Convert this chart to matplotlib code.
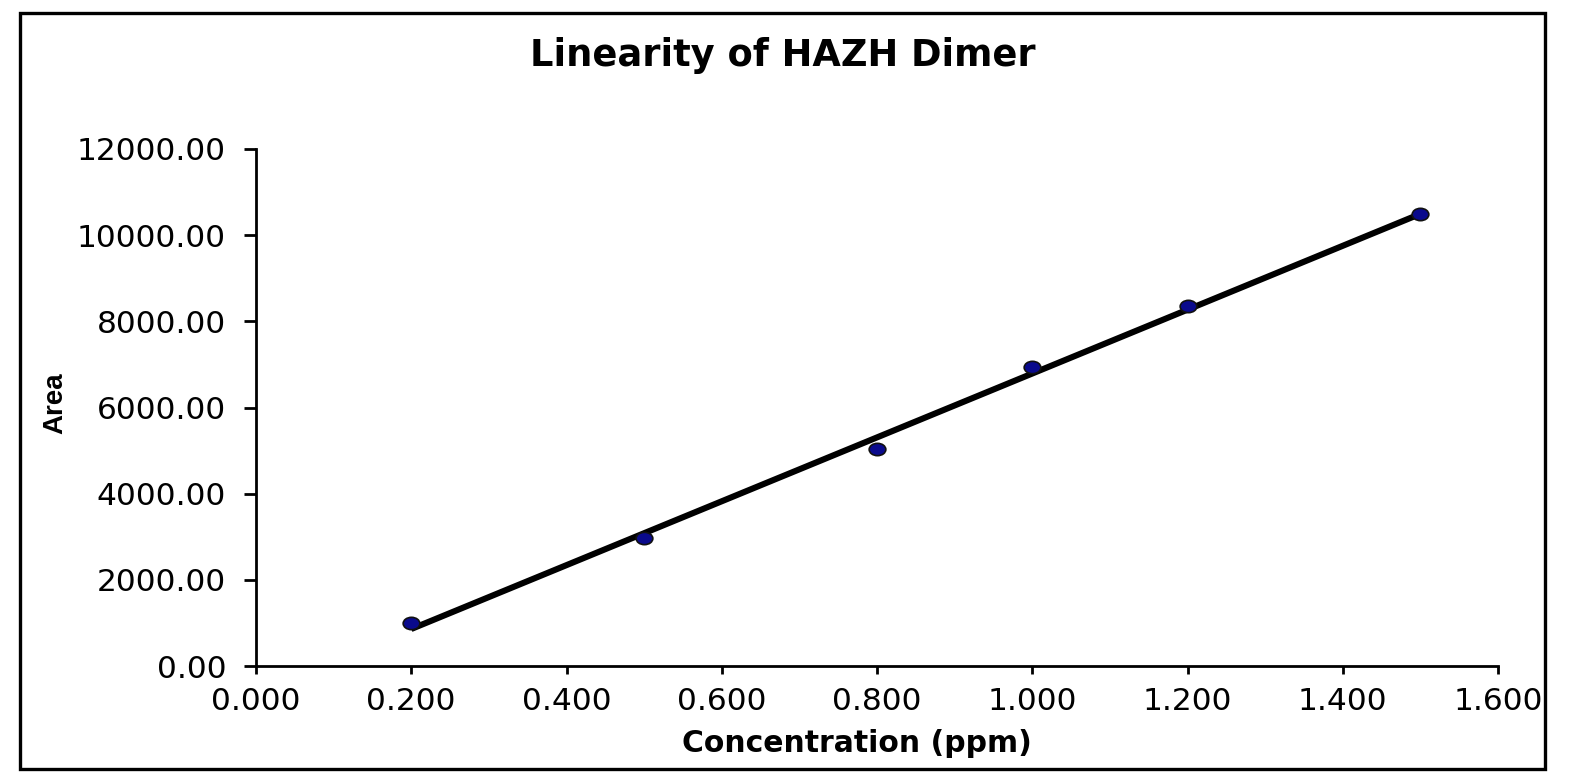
"""Linearity plot of HAZH dimer peak area against concentration."""

from __future__ import annotations

import matplotlib

matplotlib.use("Agg")

import matplotlib.pyplot as plt
import numpy as np
from matplotlib.patches import Rectangle
from matplotlib.path import Path
from matplotlib.transforms import Affine2D

CONCENTRATION = [0.2, 0.5, 0.8, 1.0, 1.2, 1.5]  # ppm
AREA = [1000.0, 2980.0, 5040.0, 6950.0, 8350.0, 10480.0]
X_TICKS = [0.0, 0.2, 0.4, 0.6, 0.8, 1.0, 1.2, 1.4, 1.6]
Y_TICKS = [0, 2000, 4000, 6000, 8000, 10000, 12000]

TITLE = "Linearity of HAZH Dimer"
X_LABEL = "Concentration (ppm)"
Y_LABEL = "Area"

WIDTH_PX, HEIGHT_PX = 1582, 775
DPI = 100

# Excel draws its markers a little wider than tall in this export.
ELLIPSE = Path.unit_circle().transformed(Affine2D().scale(1.35, 1.0))


def px_x(value: float) -> float:
    return value / WIDTH_PX


def px_y(value: float) -> float:
    return 1 - value / HEIGHT_PX


def plot() -> None:
    plt.rcParams.update({"font.family": "DejaVu Sans"})
    figure = plt.figure(figsize=(WIDTH_PX / DPI, HEIGHT_PX / DPI), dpi=DPI)
    axis = figure.add_axes(
        (px_x(256), px_y(666), px_x(1498 - 256), (666 - 149) / HEIGHT_PX)
    )

    x = np.asarray(CONCENTRATION)
    y = np.asarray(AREA)
    slope, intercept = np.polyfit(x, y, 1)
    trend_x = np.array([x.min(), x.max()])
    axis.plot(trend_x, slope * trend_x + intercept, color="black",
              linewidth=4.4, solid_capstyle="butt", zorder=2)
    axis.plot(x, y, linestyle="none", marker=ELLIPSE, markersize=12,
              markerfacecolor="#0a0a8c", markeredgecolor="#111111",
              markeredgewidth=1.2, zorder=3)

    axis.set_xlim(0, 1.6)
    axis.set_ylim(0, 12000)
    axis.set_xticks(X_TICKS, [f"{v:.3f}" for v in X_TICKS])
    axis.set_yticks(Y_TICKS, [f"{v:.2f}" for v in Y_TICKS])
    axis.tick_params(axis="y", direction="out", length=8.5, width=2,
                     pad=13, labelsize=22.5)
    axis.tick_params(axis="x", direction="out", length=6, width=2,
                     pad=9, labelsize=22.5)
    for side in ("top", "right"):
        axis.spines[side].set_visible(False)
    for side in ("left", "bottom"):
        axis.spines[side].set_linewidth(2)
    axis.patch.set_alpha(0)

    figure.text(px_x(783), px_y(55), TITLE, ha="center", va="center",
                fontsize=26.5, fontweight="bold")
    figure.text(px_x(857), px_y(744), X_LABEL, ha="center", va="center",
                fontsize=21.5, fontweight="bold")
    figure.text(px_x(55), px_y(403), Y_LABEL, ha="center", va="center",
                rotation=90, fontsize=20, fontweight="bold",
                family="Liberation Sans")

    figure.patches.append(
        Rectangle((px_x(20), px_y(769)), px_x(1545 - 20), (769 - 13) / HEIGHT_PX,
                  transform=figure.transFigure, fill=False,
                  edgecolor="black", linewidth=2.4)
    )
    figure.savefig("out.png", dpi=DPI)
    plt.close(figure)


def main() -> None:
    plot()


if __name__ == "__main__":
    main()
